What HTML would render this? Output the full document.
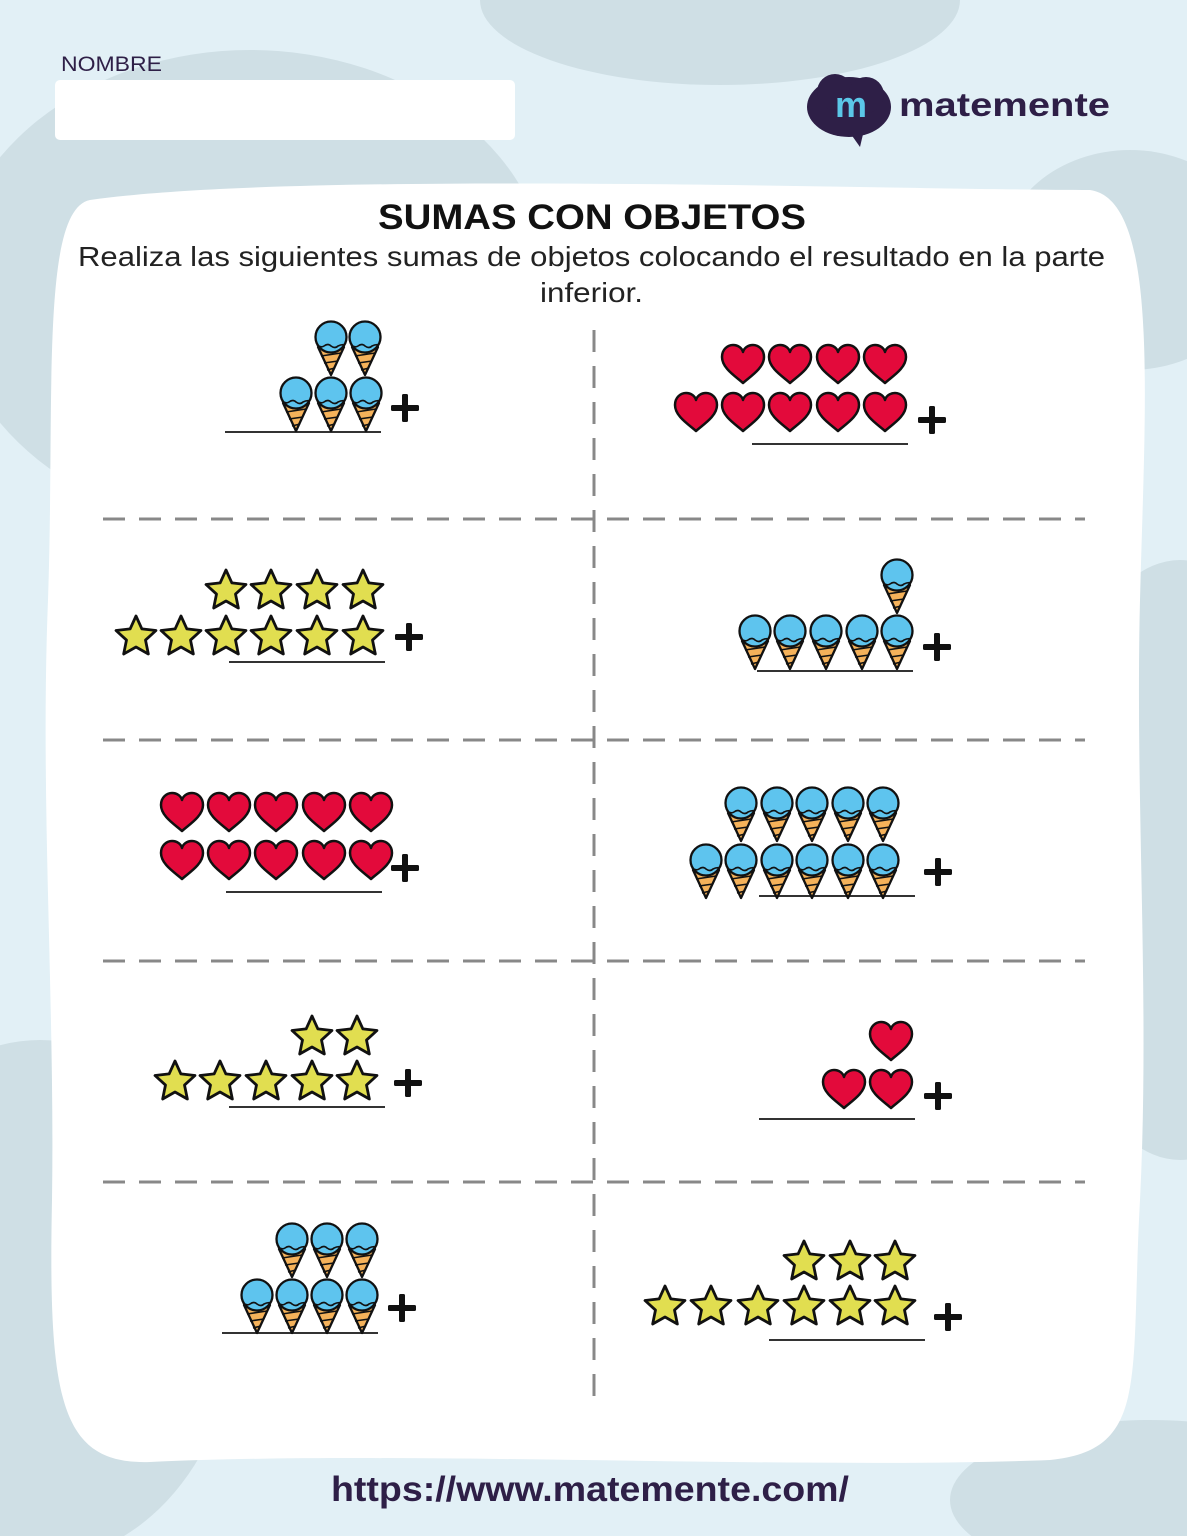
<!DOCTYPE html>
<html><head><meta charset="utf-8"><style>
html,body{margin:0;padding:0;width:1187px;height:1536px;overflow:hidden;background:#e2f0f6;}
svg{display:block;}
text{font-family:"Liberation Sans",sans-serif;}
</style></head><body>
<svg width="1187" height="1536" viewBox="0 0 1187 1536" xmlns="http://www.w3.org/2000/svg">
<defs>
<g id="ic">
<polygon points="-13,27 13,27 0,55" fill="#f5b25a" stroke="#111" stroke-width="2.3" stroke-linejoin="round"/>
<path d="M-10,36 L10,33 M-7,43 L7,41 M-4,50 L4,48" stroke="#111" stroke-width="1.6" fill="none"/>
<circle cx="0" cy="17" r="15.5" fill="#5ec4ee" stroke="#111" stroke-width="2.3"/>
<path d="M-14,25 q4,3 7,1 q4,-3 7,0 q4,3 7,0 q4,-2 7,-1" stroke="#111" stroke-width="1.6" fill="none"/>
</g>
<path id="st" d="M0,-21 L5.88,-8.09 L19.97,-6.49 L9.51,3.09 L12.34,16.99 L0,10 L-12.34,16.99 L-9.51,3.09 L-19.97,-6.49 L-5.88,-8.09 Z" fill="#e1de50" stroke="#111" stroke-width="2.8" stroke-linejoin="round"/>
<path id="ht" d="M0,19 C-8,12 -21,4 -21,-7 C-21,-15 -15,-19 -10,-19 C-5,-19 -1,-16 0,-12 C1,-16 5,-19 10,-19 C15,-19 21,-15 21,-7 C21,4 8,12 0,19Z" fill="#e30a3b" stroke="#111" stroke-width="2.5" stroke-linejoin="round"/>
<g id="pl"><rect x="-14" y="-3" width="28" height="6" rx="1.5" fill="#111"/><rect x="-3" y="-14" width="6" height="28" rx="1.5" fill="#111"/></g>
</defs>
<g fill="#cfdfe5">
<ellipse cx="720" cy="0" rx="240" ry="85"/>
<ellipse cx="250" cy="290" rx="300" ry="240"/>
<ellipse cx="1130" cy="260" rx="130" ry="110"/>
<ellipse cx="1180" cy="860" rx="140" ry="300"/>
<ellipse cx="40" cy="1300" rx="200" ry="260"/>
<ellipse cx="1150" cy="1500" rx="200" ry="80"/>
</g>
<path d="M90,200 C300,170 900,190 1090,190 C1160,200 1145,400 1140,600 C1135,800 1150,1000 1140,1200 C1130,1380 1150,1450 1050,1460 C800,1470 400,1450 150,1462 C60,1465 48,1400 52,1200 C55,1000 40,800 48,600 C55,400 40,210 90,200 Z" fill="#fff"/>
<text x="61" y="71" font-size="21" fill="#2e1f47" textLength="101" lengthAdjust="spacingAndGlyphs">NOMBRE</text>
<rect x="55" y="80" width="460" height="60" rx="5" fill="#fff"/>
<g fill="#2e1f47">
<ellipse cx="849" cy="107" rx="42" ry="30"/>
<circle cx="835" cy="92" r="18"/><circle cx="866" cy="95" r="18"/>
<polygon points="848,130 864,130 860,147"/>
</g>
<text x="851" y="117" font-size="36" font-weight="bold" fill="#5bc7e8" text-anchor="middle">m</text>
<text x="899" y="116" font-size="33" font-weight="bold" fill="#2e1f47" textLength="211" lengthAdjust="spacingAndGlyphs">matemente</text>
<text x="378" y="229" font-size="35" font-weight="bold" fill="#111" textLength="428" lengthAdjust="spacingAndGlyphs">SUMAS CON OBJETOS</text>
<text x="78" y="266" font-size="28" fill="#222" textLength="1027" lengthAdjust="spacingAndGlyphs">Realiza las siguientes sumas de objetos colocando el resultado en la parte</text>
<text x="540" y="302" font-size="28" fill="#222" textLength="103" lengthAdjust="spacingAndGlyphs">inferior.</text>
<g stroke="#888" stroke-width="3" stroke-dasharray="22,14">
<line x1="103" y1="519" x2="1085" y2="519"/>
<line x1="103" y1="740" x2="1085" y2="740"/>
<line x1="103" y1="961" x2="1085" y2="961"/>
<line x1="103" y1="1182" x2="1085" y2="1182"/>
<line x1="594" y1="330" x2="594" y2="1410"/>
</g>
<g stroke="#333" stroke-width="2">
<line x1="225" y1="432" x2="381" y2="432"/>
<line x1="752" y1="444" x2="908" y2="444"/>
<line x1="229" y1="662" x2="385" y2="662"/>
<line x1="757" y1="671" x2="913" y2="671"/>
<line x1="226" y1="892" x2="382" y2="892"/>
<line x1="759" y1="896" x2="915" y2="896"/>
<line x1="229" y1="1107" x2="385" y2="1107"/>
<line x1="759" y1="1119" x2="915" y2="1119"/>
<line x1="222" y1="1333" x2="378" y2="1333"/>
<line x1="769" y1="1340" x2="925" y2="1340"/>
</g>
<use href="#pl" x="405" y="408"/><use href="#pl" x="932" y="420"/>
<use href="#pl" x="409" y="637"/><use href="#pl" x="937" y="647"/>
<use href="#pl" x="405" y="868"/><use href="#pl" x="938" y="872"/>
<use href="#pl" x="408" y="1083"/><use href="#pl" x="938" y="1096"/>
<use href="#pl" x="402" y="1308"/><use href="#pl" x="948" y="1317"/>
<use href="#ic" x="331" y="320"/><use href="#ic" x="365" y="320"/>
<use href="#ic" x="296" y="376"/><use href="#ic" x="331" y="376"/><use href="#ic" x="366" y="376"/>
<use href="#ht" x="743" y="364"/><use href="#ht" x="790" y="364"/><use href="#ht" x="838" y="364"/><use href="#ht" x="885" y="364"/>
<use href="#ht" x="696" y="412"/><use href="#ht" x="743" y="412"/><use href="#ht" x="790" y="412"/><use href="#ht" x="838" y="412"/><use href="#ht" x="885" y="412"/>
<use href="#st" x="226" y="591"/><use href="#st" x="271" y="591"/><use href="#st" x="317" y="591"/><use href="#st" x="363" y="591"/>
<use href="#st" x="136" y="637"/><use href="#st" x="181" y="637"/><use href="#st" x="226" y="637"/><use href="#st" x="271" y="637"/><use href="#st" x="317" y="637"/><use href="#st" x="363" y="637"/>
<use href="#ic" x="897" y="558"/>
<use href="#ic" x="755" y="614"/><use href="#ic" x="790" y="614"/><use href="#ic" x="826" y="614"/><use href="#ic" x="862" y="614"/><use href="#ic" x="897" y="614"/>
<use href="#ht" x="182" y="812"/><use href="#ht" x="229" y="812"/><use href="#ht" x="276" y="812"/><use href="#ht" x="324" y="812"/><use href="#ht" x="371" y="812"/>
<use href="#ht" x="182" y="860"/><use href="#ht" x="229" y="860"/><use href="#ht" x="276" y="860"/><use href="#ht" x="324" y="860"/><use href="#ht" x="371" y="860"/>
<use href="#ic" x="741" y="786"/><use href="#ic" x="777" y="786"/><use href="#ic" x="812" y="786"/><use href="#ic" x="848" y="786"/><use href="#ic" x="883" y="786"/>
<use href="#ic" x="706" y="843"/><use href="#ic" x="741" y="843"/><use href="#ic" x="777" y="843"/><use href="#ic" x="812" y="843"/><use href="#ic" x="848" y="843"/><use href="#ic" x="883" y="843"/>
<use href="#st" x="312" y="1037"/><use href="#st" x="357" y="1037"/>
<use href="#st" x="175" y="1082"/><use href="#st" x="220" y="1082"/><use href="#st" x="266" y="1082"/><use href="#st" x="312" y="1082"/><use href="#st" x="357" y="1082"/>
<use href="#ht" x="891" y="1041"/>
<use href="#ht" x="844" y="1089"/><use href="#ht" x="891" y="1089"/>
<use href="#ic" x="292" y="1222"/><use href="#ic" x="327" y="1222"/><use href="#ic" x="362" y="1222"/>
<use href="#ic" x="257" y="1278"/><use href="#ic" x="292" y="1278"/><use href="#ic" x="327" y="1278"/><use href="#ic" x="362" y="1278"/>
<use href="#st" x="804" y="1262"/><use href="#st" x="850" y="1262"/><use href="#st" x="895" y="1262"/>
<use href="#st" x="665" y="1307"/><use href="#st" x="711" y="1307"/><use href="#st" x="758" y="1307"/><use href="#st" x="804" y="1307"/><use href="#st" x="850" y="1307"/><use href="#st" x="895" y="1307"/>
<text x="331" y="1501" font-size="35" font-weight="bold" fill="#2e1f47" textLength="518" lengthAdjust="spacingAndGlyphs">https://www.matemente.com/</text>
</svg>
</body></html>
